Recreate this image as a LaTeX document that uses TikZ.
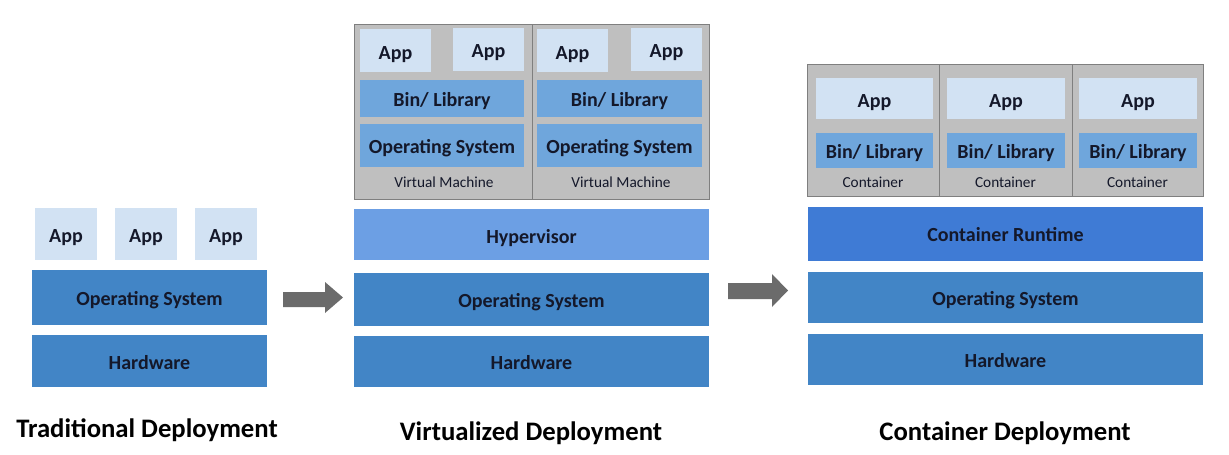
\documentclass[tikz,border=0pt]{standalone}
\usepackage{fontspec}
\setmainfont{Carlito}
\usetikzlibrary{positioning}
\definecolor{osblue}{HTML}{4285C6}
\definecolor{hyper}{HTML}{6C9FE4}
\definecolor{runtime}{HTML}{3F7BD5}
\definecolor{binlib}{HTML}{6FA6DC}
\definecolor{appc}{HTML}{D2E2F3}
\definecolor{vmgray}{HTML}{BFBFBF}
\definecolor{vmline}{HTML}{7F7F7F}
\definecolor{txt}{HTML}{14182A}
\definecolor{arrowc}{HTML}{6B6B6B}
\tikzset{
  layer/.style={fill=osblue, draw=none},
  appbox/.style={fill=appc, draw=none},
  binbox/.style={fill=binlib, draw=none},
  vmbox/.style={fill=vmgray, draw=vmline, line width=0.8pt},
  lbl/.style={font=\bfseries\fontsize{20}{24}\selectfont, text=txt, anchor=base, yshift=-7pt},
  small/.style={font=\fontsize{15.3}{18}\selectfont, text=txt, anchor=base, yshift=-5.5pt},
  title/.style={font=\bfseries\fontsize{26.7}{30}\selectfont, text=black, anchor=base, yshift=-9pt},
  bigarrow/.style={fill=arrowc, draw=none}
}
\begin{document}
\begin{tikzpicture}[x=1pt,y=-1pt]
\useasboundingbox (0,0) rectangle (1229,455);
% ---------- Traditional ----------
\fill[appbox] (35,208) rectangle (97,260);
\fill[appbox] (115,208) rectangle (177,260);
\fill[appbox] (195,208) rectangle (257,260);
\node[lbl] (ta1) at (66,235) {App};
\node[lbl] (ta2) at (146,235) {App};
\node[lbl] (ta3) at (226,235) {App};
\fill[layer] (32,270) rectangle (267,325);
\node[lbl] (tos) at (149.5,298) {Operating System};
\fill[layer] (32,335) rectangle (267,387);
\node[lbl] (thw) at (149.5,362) {Hardware};
\node[title] (t1) at (147,428) {Traditional Deployment};
% arrow 1
\fill[bigarrow] (283,292) -- (325,292) -- (325,282) -- (343,297.5) -- (325,313) -- (325,307) -- (283,307) -- cycle;
% ---------- Virtualized ----------
\draw[vmbox] (354,24) rectangle (532,199);
\draw[vmbox] (532,24) rectangle (709,199);
\fill[appbox] (360,29) rectangle (431,72);
\fill[appbox] (453,28) rectangle (524,71);
\fill[appbox] (537,29) rectangle (608,72);
\fill[appbox] (631,28) rectangle (702,71);
\node[lbl] (va1) at (395.5,52) {App};
\node[lbl] (va2) at (488.5,50) {App};
\node[lbl] (va3) at (572.5,52) {App};
\node[lbl] (va4) at (666.5,50) {App};
\fill[binbox] (360,80) rectangle (524,117);
\fill[binbox] (537,80) rectangle (702,117);
\node[lbl] (vb1) at (442,99) {Bin/ Library};
\node[lbl] (vb2) at (619.5,99) {Bin/ Library};
\fill[binbox] (360,124) rectangle (524,167);
\fill[binbox] (537,124) rectangle (702,167);
\node[lbl] (vo1) at (442,146) {Operating System};
\node[lbl] (vo2) at (619.5,146) {Operating System};
\node[small] (vm1) at (444,182) {Virtual Machine};
\node[small] (vm2) at (621,182) {Virtual Machine};
\fill[hyper] (354,209) rectangle (709,260);
\node[lbl] (vh) at (531.5,236) {Hypervisor};
\fill[layer] (354,273) rectangle (709,326);
\node[lbl] (vos) at (531.5,300) {Operating System};
\fill[layer] (354,336) rectangle (709,387);
\node[lbl] (vhw) at (531.5,362) {Hardware};
\node[title] (t2) at (531,431) {Virtualized Deployment};
% arrow 2
\fill[bigarrow] (728,283) -- (772,283) -- (772,274) -- (788,290.5) -- (772,307) -- (772,299) -- (728,299) -- cycle;
% ---------- Container ----------
\draw[vmbox] (807,64) rectangle (939,196);
\draw[vmbox] (939,64) rectangle (1072,196);
\draw[vmbox] (1072,64) rectangle (1203,196);
\fill[appbox] (816,78) rectangle (933,119);
\fill[appbox] (947,78) rectangle (1065,119);
\fill[appbox] (1079,78) rectangle (1197,119);
\node[lbl] (ca1) at (874.5,100) {App};
\node[lbl] (ca2) at (1006,100) {App};
\node[lbl] (ca3) at (1138,100) {App};
\fill[binbox] (816,133) rectangle (933,168);
\fill[binbox] (947,133) rectangle (1065,168);
\fill[binbox] (1079,133) rectangle (1197,168);
\node[lbl] (cb1) at (874.5,151) {Bin/ Library};
\node[lbl] (cb2) at (1006,151) {Bin/ Library};
\node[lbl] (cb3) at (1138,151) {Bin/ Library};
\node[small] (cc1) at (873,182) {Container};
\node[small] (cc2) at (1005.5,182) {Container};
\node[small] (cc3) at (1137.5,182) {Container};
\fill[runtime] (808,207) rectangle (1203,261);
\node[lbl] (cr) at (1005.5,234) {Container Runtime};
\fill[layer] (808,272) rectangle (1203,323);
\node[lbl] (cos) at (1005.5,298) {Operating System};
\fill[layer] (808,334) rectangle (1203,385);
\node[lbl] (chw) at (1005.5,360) {Hardware};
\node[title] (t3) at (1005,431) {Container Deployment};
\end{tikzpicture}
\end{document}
